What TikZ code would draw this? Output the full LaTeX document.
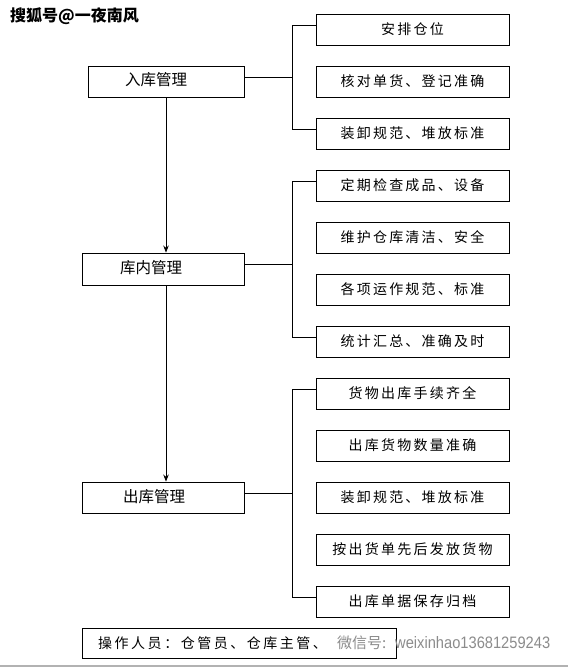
\documentclass[tikz,border=0pt]{standalone}
\usepackage{fontspec}
\setmainfont{Liberation Sans}
\newfontfamily\cjk{Noto Sans CJK SC}
\newfontfamily\cjksp[LetterSpace=16]{Noto Sans CJK SC}
\newfontfamily\cjkspb[LetterSpace=18]{Noto Sans CJK SC}
\usetikzlibrary{arrows.meta}
\begin{document}
\begin{tikzpicture}[x=1pt,y=-1pt,
  line/.style={line width=0.9pt},
  subbox/.style={draw,line width=0.9pt,minimum width=193pt,minimum height=31pt,inner sep=0pt,
    font=\cjksp\fontsize{14}{14}\selectfont},
  mainbox/.style={draw,line width=0.9pt,minimum height=31pt,inner sep=0pt},
  maintext/.style={anchor=west,inner sep=0pt,font=\cjk\fontsize{15.5}{15.5}\selectfont},
  arr/.style={line width=0.9pt,-{Stealth[length=7pt,width=5.5pt]}}]
\path[fill=white,use as bounding box] (0,0) rectangle (568,669);
\draw[gray!60,line width=2pt] (0,666) -- (568,666);
% watermark
\node[anchor=west,inner sep=0pt,font=\cjk\bfseries\fontsize{16}{16}\selectfont] (wm) at (10,16) {搜狐号@一夜南风};
% left boxes
\node[mainbox,minimum width=156pt] (in) at (166,81.5) {};
\node[maintext] (intext) at (125,80) {入库管理};
\node[mainbox,minimum width=162pt,minimum height=32pt] (ku) at (163,269) {};
\node[maintext] (kutext) at (120,268) {库内管理};
\node[mainbox,minimum width=162pt] (ck) at (163,497.5) {};
\node[maintext] (cktext) at (123,496.5) {出库管理};
% right boxes
\node[subbox] (r1) at (412.5,29.5) {安排仓位};
\node[subbox] (r2) at (412.5,81.5) {核对单货、登记准确};
\node[subbox] (r3) at (412.5,133.5) {装卸规范、堆放标准};
\node[subbox] (r4) at (412.5,185.5) {定期检查成品、设备};
\node[subbox] (r5) at (412.5,237.5) {维护仓库清洁、安全};
\node[subbox] (r6) at (412.5,289.5) {各项运作规范、标准};
\node[subbox] (r7) at (412.5,341.5) {统计汇总、准确及时};
\node[subbox] (r8) at (412.5,393.5) {货物出库手续齐全};
\node[subbox] (r9) at (412.5,445.5) {出库货物数量准确};
\node[subbox] (r10) at (412.5,497.5) {装卸规范、堆放标准};
\node[subbox] (r11) at (412.5,549.5) {按出货单先后发放货物};
\node[subbox] (r12) at (412.5,601.5) {出库单据保存归档};
% arrows
\draw[arr] (in.south) -- (in.south |- ku.north);
\draw[arr] (in.south |- ku.south) -- (in.south |- ck.north);
% brackets
\coordinate (bx) at (292,0);
\draw[line] ([yshift=4.5pt]in.east) -- ([yshift=4.5pt]in.east -| bx);
\draw[line] ([yshift=4.5pt]r1.west) -- ([yshift=4.5pt]r1.west -| bx) -- ([yshift=4.5pt]r3.west -| bx) -- ([yshift=4.5pt]r3.west);
\draw[line] ([yshift=4.5pt]ku.east) -- ([yshift=4.5pt]ku.east -| bx);
\draw[line] ([yshift=4.5pt]r4.west) -- ([yshift=4.5pt]r4.west -| bx) -- ([yshift=4.5pt]r7.west -| bx) -- ([yshift=4.5pt]r7.west);
\draw[line] ([yshift=4.5pt]ck.east) -- ([yshift=4.5pt]ck.east -| bx);
\draw[line] ([yshift=4.5pt]r8.west) -- ([yshift=4.5pt]r8.west -| bx) -- ([yshift=4.5pt]r12.west -| bx) -- ([yshift=4.5pt]r12.west);
% bottom box
\node[draw,line width=0.9pt,minimum width=314pt,minimum height=30pt,inner sep=0pt] (ops) at (239,643) {};
\node[anchor=west,inner sep=0pt,font=\cjkspb\fontsize{14}{14}\selectfont] (opstext) at (98,643) {操作人员：仓管员、仓库主管、};
\node[anchor=west,inner sep=0pt,text=gray!90,font=\cjk\fontsize{15}{15}\selectfont] (wx1) at (337,643) {微信号:};
\node[anchor=west,inner sep=0pt,text=gray!90] (wx2) at (395,643) {\resizebox{155pt}{12pt}{weixinhao13681259243}};
\end{tikzpicture}
\end{document}
